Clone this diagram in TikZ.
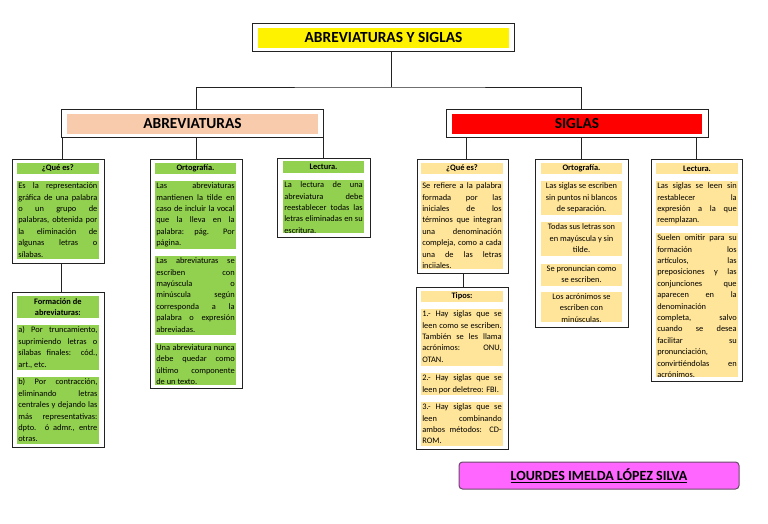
\documentclass[tikz,border=0pt]{standalone}
\usepackage{fontspec}
\setmainfont{Carlito}
\usetikzlibrary{calc}
\definecolor{headpeach}{HTML}{F8CBAD}
\definecolor{leafgreen}{HTML}{92D050}
\definecolor{leafgold}{HTML}{FFE599}
\definecolor{namepink}{HTML}{FF66FF}
\definecolor{nameedge}{HTML}{6A4A6A}
\definecolor{frameink}{HTML}{222222}
\tolerance=10000
\hbadness=10000
\hfuzz=3pt
\tikzset{
  frame/.style={draw=frameink,line width=1pt,fill=white,inner sep=0pt},
  link/.style={draw=frameink,line width=0.9pt},
  swatch/.style={inner sep=0pt},
  maintitle/.style={font=\fontsize{15.4}{18}\selectfont\bfseries,inner sep=0pt},
  leaftitle/.style={font=\fontsize{8.4}{11.4}\selectfont\bfseries,align=center,inner sep=0pt},
  leaftext/.style={font=\fontsize{8.4}{11.4}\selectfont,anchor=north,inner xsep=0pt,inner ysep=1.8pt}
}
\begin{document}
\begin{tikzpicture}[x=1pt,y=-1pt]
  \useasboundingbox (0,0) rectangle (768,523);

  %% Building the frames
  \foreach \name/\xa/\ya/\xb/\yb in {main/252/23.5/514/51.5,ABREV/61/109.5/323/137,SIGLAS/446/109.5/708/137,
    qa/12.7/159.3/104/263,fa/12.7/292/104/447.7,oa/150/159.3/242/388.7,la/277/158/370/237,
    qs/417/159.3/508/273,ts/416.5/287/508/449,os/535/159.3/628/327,ls/651/159.3/742/381}
  {
    \node[frame,minimum width={(\xb-\xa)*1pt},minimum height={(\yb-\ya)*1pt}] (\name) at ({(\xa+\xb)/2},{(\ya+\yb)/2}) {};
  }

  %% Connecting the frames
  \coordinate (hub) at (391,87);
  \draw[link] (hub) -- (hub |- main.south);
  \draw[link] (oa.north |- ABREV.north) |- (hub) -| (os.north |- SIGLAS.north);
  \foreach \from/\to/\shift in {ABREV/qa/4,ABREV/oa/0,ABREV/la/-0.5,qa/fa/2.6,
    SIGLAS/qs/3.5,SIGLAS/os/0,SIGLAS/ls/0,qs/ts/1.5}
  {
    \draw[link] ([xshift=\shift pt]\to.north) -- ([xshift=\shift pt]\to.north |- \from.south);
  }

  %% Big headings
  \foreach \name/\xa/\ya/\xb/\yb/\col/\txt in {mainF/258/27.5/509/47.5/yellow/ABREVIATURAS Y SIGLAS,
    abrevF/67/113.5/318/133.5/headpeach/ABREVIATURAS,siglasF/452/113.5/702/133.5/red/SIGLAS}
  {
    \node[swatch,fill=\col,minimum width={(\xb-\xa)*1pt},minimum height={(\yb-\ya)*1pt}] (\name) at ({(\xa+\xb)/2},{(\ya+\yb)/2}) {};
    \node[maintitle] (\name-t) at (\name) {\txt};
  }

  %% Small headings
  \foreach \name/\xa/\ya/\xb/\yb/\col/\txt in {qaH/17/163/98.7/174/leafgreen/¿Qué es?,
    faH/17/296/98.7/318/leafgreen/{Formación de\\abreviaturas:},
    oaH/155/163/236/174/leafgreen/Ortografía.,laH/283/161/364/173/leafgreen/Lectura.,
    qsH/421/163/503/174/leafgold/¿Qué es?,tsH/421/291/503/302/leafgold/Tipos:,
    osH/541/163/622/174/leafgold/Ortografía.,lsH/656/163/738/174/leafgold/Lectura.}
  {
    \node[swatch,fill=\col,minimum width={(\xb-\xa)*1pt},minimum height={(\yb-\ya)*1pt}] (\name) at ({(\xa+\xb)/2},{(\ya+\yb)/2}) {};
    \node[leaftitle] (\name-t) at (\name) {\txt};
  }

  %% Justified paragraphs
  \foreach \name/\xa/\ya/\xb/\yb/\col/\txt in {
    qaA/17/181/98.7/259/leafgreen/{Es la representación\linebreak gráfica de una palabra\linebreak o un grupo de\linebreak palabras, obtenida por\linebreak la eliminación de\linebreak algunas letras o\linebreak sílabas.},
    faA/17/325/98.7/370/leafgreen/{a) Por truncamiento,\linebreak suprimiendo letras o\linebreak sílabas finales: cód.,\linebreak art., etc.},
    faB/17/377/98.7/443.7/leafgreen/{b) Por contracción,\linebreak eliminando letras\linebreak centrales y dejando las\linebreak más representativas:\linebreak dpto. ó admr., entre\linebreak otras.},
    oaA/155/181/236/249/leafgreen/{Las abreviaturas\linebreak mantienen la tilde en\linebreak caso de incluir la vocal\linebreak que la lleva en la\linebreak palabra: pág. Por\linebreak página.},
    oaB/155/256/236/335/leafgreen/{Las abreviaturas se\linebreak escriben con\linebreak mayúscula o\linebreak minúscula según\linebreak corresponda a la\linebreak palabra o expresión\linebreak abreviadas.},
    oaC/155/342.7/236/385/leafgreen/{Una abreviatura nunca\linebreak debe quedar como\linebreak último componente\linebreak de un texto.},
    laA/283/180/364/233/leafgreen/{La lectura de una\linebreak abreviatura debe\linebreak reestablecer todas las\linebreak letras eliminadas en su\linebreak escritura.},
    qsA/421/181/503/269/leafgold/{Se refiere a la palabra\linebreak formada por las\linebreak iniciales de los\linebreak términos que integran\linebreak una denominación\linebreak compleja, como a cada\linebreak una de las letras\linebreak inciiales.},
    tsA/421/309/503/366/leafgold/{1.- Hay siglas que se\linebreak leen como se escriben.\linebreak También se les llama\linebreak acrónimos: ONU,\linebreak OTAN.},
    tsB/421/373/503/395/leafgold/{2.- Hay siglas que se\linebreak leen por deletreo: FBI.},
    tsC/421/402/503/446/leafgold/{3.- Hay siglas que se\linebreak leen combinando\linebreak ambos métodos: CD-\linebreak ROM.},
    lsA/656/181/738/226/leafgold/{Las siglas se leen sin\linebreak restablecer la\linebreak expresión a la que\linebreak reemplazan.},
    lsB/656/233/738/377/leafgold/{Suelen omitir para su\linebreak formación los\linebreak artículos, las\linebreak preposiciones y las\linebreak conjunciones que\linebreak aparecen en la\linebreak denominación\linebreak completa, salvo\linebreak cuando se desea\linebreak facilitar su\linebreak pronunciación,\linebreak convirtiéndolas en\linebreak acrónimos.}}
  {
    \pgfmathsetlengthmacro{\wide}{(\xb-\xa-2.6)*1pt}
    \node[swatch,fill=\col,minimum width={(\xb-\xa)*1pt},minimum height={(\yb-\ya)*1pt}] (\name) at ({(\xa+\xb)/2},{(\ya+\yb)/2}) {};
    \node[leaftext,align=justify,text width=\wide] (\name-t) at (\name.north) {\txt};
  }

  %% Centred paragraphs
  \foreach \name/\ya/\yb/\txt in {osA/181/215/{Las siglas se escriben\\sin puntos ni blancos\\de separación.},
    osB/222/256/{Todas sus letras son\\en mayúscula y sin\\tilde.},
    osC/264/286/{Se pronuncian como\\se escriben.},
    osD/292/322/{Los acrónimos se\\escriben con\\minúsculas.}}
  {
    \node[swatch,fill=leafgold,minimum width=81pt,minimum height={(\yb-\ya)*1pt}] (\name) at (581.5,{(\ya+\yb)/2}) {};
    \node[leaftext,align=center] (\name-t) at (\name.north) {\txt};
  }

  %% Signature
  \node[draw=nameedge,fill=namepink,line width=1pt,rounded corners=3.5pt,minimum width=280pt,minimum height=27pt,inner sep=0pt,
    font=\fontsize{14}{16}\selectfont\bfseries] (author) at (599,475.5) {\underline{LOURDES IMELDA LÓPEZ SILVA}};
\end{tikzpicture}
\end{document}
